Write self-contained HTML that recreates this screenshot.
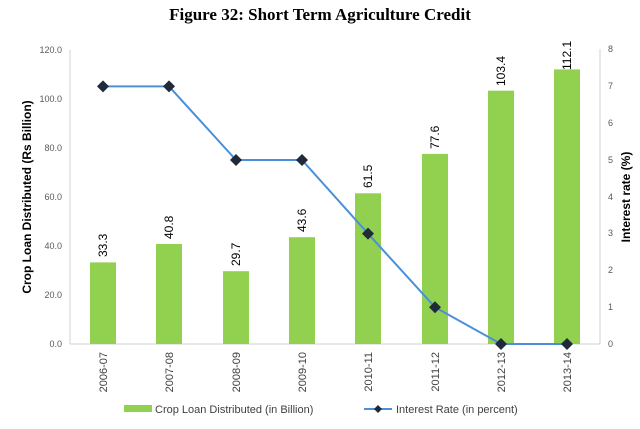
<!DOCTYPE html>
<html><head><style>body{margin:0;background:#fff}</style></head><body>
<svg width="640" height="424" xmlns="http://www.w3.org/2000/svg" font-family="Liberation Sans, sans-serif">
<text x="320" y="20" text-anchor="middle" font-family="Liberation Serif, serif" font-weight="bold" font-size="17">Figure 32: Short Term Agriculture Credit</text>
<line x1="70" y1="50" x2="70" y2="344" stroke="#d0d0d0"/>
<line x1="600" y1="49" x2="600" y2="344" stroke="#d0d0d0"/>
<line x1="70" y1="344" x2="600" y2="344" stroke="#d0d0d0"/>
<g font-size="9" fill="#595959" text-anchor="end">
<text x="62" y="53">120.0</text><text x="62" y="102">100.0</text><text x="62" y="151">80.0</text><text x="62" y="200">60.0</text><text x="62" y="249">40.0</text><text x="62" y="298">20.0</text><text x="62" y="347">0.0</text>
</g>
<g font-size="9" fill="#595959">
<text x="608" y="52">8</text><text x="608" y="89">7</text><text x="608" y="126">6</text><text x="608" y="163">5</text><text x="608" y="200">4</text><text x="608" y="236">3</text><text x="608" y="273">2</text><text x="608" y="310">1</text><text x="608" y="347">0</text>
</g>
<text transform="translate(31,197) rotate(-90)" text-anchor="middle" font-weight="bold" font-size="12">Crop Loan Distributed (Rs Billion)</text>
<text transform="translate(630,197) rotate(-90)" text-anchor="middle" font-weight="bold" font-size="12">Interest rate (%)</text>
<g fill="#92d050">
<rect x="90" y="262.4" width="26" height="81.6"/>
<rect x="156" y="244" width="26" height="100"/>
<rect x="223" y="271.2" width="26" height="72.8"/>
<rect x="289" y="237.2" width="26" height="106.8"/>
<rect x="355" y="193.3" width="26" height="150.7"/>
<rect x="422" y="153.9" width="26" height="190.1"/>
<rect x="488" y="90.7" width="26" height="253.3"/>
<rect x="554" y="69.4" width="26" height="274.6"/>
</g>
<g font-size="12" fill="#000">
<text transform="translate(107,257) rotate(-90)">33.3</text>
<text transform="translate(173,239) rotate(-90)">40.8</text>
<text transform="translate(240,266) rotate(-90)">29.7</text>
<text transform="translate(306,232) rotate(-90)">43.6</text>
<text transform="translate(372,188) rotate(-90)">61.5</text>
<text transform="translate(439,149) rotate(-90)">77.6</text>
<text transform="translate(505,86) rotate(-90)">103.4</text>
<text transform="translate(571,70) rotate(-90)">112.1</text>
</g>
<polyline fill="none" stroke="#4a90d9" stroke-width="2" points="103,86.4 169,86.4 236,160 302,160 368,233.6 435,307.2 501,344 567,344"/>
<g fill="#1f2a3a">
<path d="M103,80.4l6,6-6,6-6-6z"/><path d="M169,80.4l6,6-6,6-6-6z"/><path d="M236,154l6,6-6,6-6-6z"/><path d="M302,154l6,6-6,6-6-6z"/><path d="M368,227.6l6,6-6,6-6-6z"/><path d="M435,301.2l6,6-6,6-6-6z"/><path d="M501,338l6,6-6,6-6-6z"/><path d="M567,338l6,6-6,6-6-6z"/>
</g>
<g font-size="11" fill="#404040" text-anchor="end">
<text transform="translate(107,352) rotate(-90)">2006-07</text>
<text transform="translate(173,352) rotate(-90)">2007-08</text>
<text transform="translate(240,352) rotate(-90)">2008-09</text>
<text transform="translate(306,352) rotate(-90)">2009-10</text>
<text transform="translate(372,352) rotate(-90)">2010-11</text>
<text transform="translate(439,352) rotate(-90)">2011-12</text>
<text transform="translate(505,352) rotate(-90)">2012-13</text>
<text transform="translate(571,352) rotate(-90)">2013-14</text>
</g>
<rect x="124" y="405" width="28" height="7" fill="#92d050"/>
<text x="155" y="413" font-size="11" fill="#404040">Crop Loan Distributed (in Billion)</text>
<line x1="364" y1="409" x2="392" y2="409" stroke="#4a90d9" stroke-width="2"/>
<path d="M378,405l4,4-4,4-4-4z" fill="#1f2a3a"/>
<text x="396" y="413" font-size="11" fill="#404040">Interest Rate (in percent)</text>
</svg>
</body></html>
